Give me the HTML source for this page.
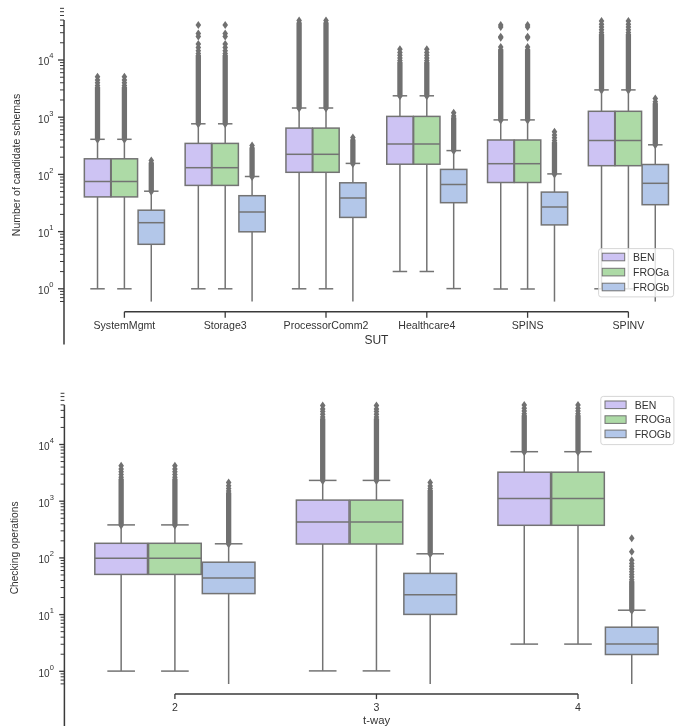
<!DOCTYPE html>
<html><head><meta charset="utf-8"><style>
html,body{margin:0;padding:0;background:#fff;overflow:hidden;}
svg{display:block;font-family:'Liberation Sans', Arial, sans-serif;}
</style></head><body>
<svg width="685" height="726" viewBox="0 0 685 726">
<rect width="685" height="726" fill="#fff"/>
<line x1="64" y1="20" x2="64" y2="344.4" stroke="#3a3a3a" stroke-width="1.5"/>
<line x1="60" y1="301.49" x2="64" y2="301.49" stroke="#3a3a3a" stroke-width="1.0"/>
<line x1="60" y1="297.66" x2="64" y2="297.66" stroke="#3a3a3a" stroke-width="1.0"/>
<line x1="60" y1="294.34" x2="64" y2="294.34" stroke="#3a3a3a" stroke-width="1.0"/>
<line x1="60" y1="291.42" x2="64" y2="291.42" stroke="#3a3a3a" stroke-width="1.0"/>
<line x1="58" y1="288.80" x2="64" y2="288.80" stroke="#3a3a3a" stroke-width="1.3"/>
<text x="53.4" y="294.10" font-size="10" text-anchor="end" fill="#333333">10<tspan dy="-6.9" font-size="7.5">0</tspan></text>
<line x1="60" y1="271.58" x2="64" y2="271.58" stroke="#3a3a3a" stroke-width="1.0"/>
<line x1="60" y1="261.51" x2="64" y2="261.51" stroke="#3a3a3a" stroke-width="1.0"/>
<line x1="60" y1="254.36" x2="64" y2="254.36" stroke="#3a3a3a" stroke-width="1.0"/>
<line x1="60" y1="248.82" x2="64" y2="248.82" stroke="#3a3a3a" stroke-width="1.0"/>
<line x1="60" y1="244.29" x2="64" y2="244.29" stroke="#3a3a3a" stroke-width="1.0"/>
<line x1="60" y1="240.46" x2="64" y2="240.46" stroke="#3a3a3a" stroke-width="1.0"/>
<line x1="60" y1="237.14" x2="64" y2="237.14" stroke="#3a3a3a" stroke-width="1.0"/>
<line x1="60" y1="234.22" x2="64" y2="234.22" stroke="#3a3a3a" stroke-width="1.0"/>
<line x1="58" y1="231.60" x2="64" y2="231.60" stroke="#3a3a3a" stroke-width="1.3"/>
<text x="53.4" y="236.90" font-size="10" text-anchor="end" fill="#333333">10<tspan dy="-6.9" font-size="7.5">1</tspan></text>
<line x1="60" y1="214.38" x2="64" y2="214.38" stroke="#3a3a3a" stroke-width="1.0"/>
<line x1="60" y1="204.31" x2="64" y2="204.31" stroke="#3a3a3a" stroke-width="1.0"/>
<line x1="60" y1="197.16" x2="64" y2="197.16" stroke="#3a3a3a" stroke-width="1.0"/>
<line x1="60" y1="191.62" x2="64" y2="191.62" stroke="#3a3a3a" stroke-width="1.0"/>
<line x1="60" y1="187.09" x2="64" y2="187.09" stroke="#3a3a3a" stroke-width="1.0"/>
<line x1="60" y1="183.26" x2="64" y2="183.26" stroke="#3a3a3a" stroke-width="1.0"/>
<line x1="60" y1="179.94" x2="64" y2="179.94" stroke="#3a3a3a" stroke-width="1.0"/>
<line x1="60" y1="177.02" x2="64" y2="177.02" stroke="#3a3a3a" stroke-width="1.0"/>
<line x1="58" y1="174.40" x2="64" y2="174.40" stroke="#3a3a3a" stroke-width="1.3"/>
<text x="53.4" y="179.70" font-size="10" text-anchor="end" fill="#333333">10<tspan dy="-6.9" font-size="7.5">2</tspan></text>
<line x1="60" y1="157.18" x2="64" y2="157.18" stroke="#3a3a3a" stroke-width="1.0"/>
<line x1="60" y1="147.11" x2="64" y2="147.11" stroke="#3a3a3a" stroke-width="1.0"/>
<line x1="60" y1="139.96" x2="64" y2="139.96" stroke="#3a3a3a" stroke-width="1.0"/>
<line x1="60" y1="134.42" x2="64" y2="134.42" stroke="#3a3a3a" stroke-width="1.0"/>
<line x1="60" y1="129.89" x2="64" y2="129.89" stroke="#3a3a3a" stroke-width="1.0"/>
<line x1="60" y1="126.06" x2="64" y2="126.06" stroke="#3a3a3a" stroke-width="1.0"/>
<line x1="60" y1="122.74" x2="64" y2="122.74" stroke="#3a3a3a" stroke-width="1.0"/>
<line x1="60" y1="119.82" x2="64" y2="119.82" stroke="#3a3a3a" stroke-width="1.0"/>
<line x1="58" y1="117.20" x2="64" y2="117.20" stroke="#3a3a3a" stroke-width="1.3"/>
<text x="53.4" y="122.50" font-size="10" text-anchor="end" fill="#333333">10<tspan dy="-6.9" font-size="7.5">3</tspan></text>
<line x1="60" y1="99.98" x2="64" y2="99.98" stroke="#3a3a3a" stroke-width="1.0"/>
<line x1="60" y1="89.91" x2="64" y2="89.91" stroke="#3a3a3a" stroke-width="1.0"/>
<line x1="60" y1="82.76" x2="64" y2="82.76" stroke="#3a3a3a" stroke-width="1.0"/>
<line x1="60" y1="77.22" x2="64" y2="77.22" stroke="#3a3a3a" stroke-width="1.0"/>
<line x1="60" y1="72.69" x2="64" y2="72.69" stroke="#3a3a3a" stroke-width="1.0"/>
<line x1="60" y1="68.86" x2="64" y2="68.86" stroke="#3a3a3a" stroke-width="1.0"/>
<line x1="60" y1="65.54" x2="64" y2="65.54" stroke="#3a3a3a" stroke-width="1.0"/>
<line x1="60" y1="62.62" x2="64" y2="62.62" stroke="#3a3a3a" stroke-width="1.0"/>
<line x1="58" y1="60.00" x2="64" y2="60.00" stroke="#3a3a3a" stroke-width="1.3"/>
<text x="53.4" y="65.30" font-size="10" text-anchor="end" fill="#333333">10<tspan dy="-6.9" font-size="7.5">4</tspan></text>
<line x1="60" y1="42.78" x2="64" y2="42.78" stroke="#3a3a3a" stroke-width="1.0"/>
<line x1="60" y1="32.71" x2="64" y2="32.71" stroke="#3a3a3a" stroke-width="1.0"/>
<line x1="60" y1="25.56" x2="64" y2="25.56" stroke="#3a3a3a" stroke-width="1.0"/>
<line x1="60" y1="20.02" x2="64" y2="20.02" stroke="#3a3a3a" stroke-width="1.0"/>
<line x1="60" y1="15.49" x2="64" y2="15.49" stroke="#3a3a3a" stroke-width="1.0"/>
<line x1="60" y1="11.66" x2="64" y2="11.66" stroke="#3a3a3a" stroke-width="1.0"/>
<line x1="60" y1="8.34" x2="64" y2="8.34" stroke="#3a3a3a" stroke-width="1.0"/>
<line x1="124.4" y1="311.8" x2="628.4" y2="311.8" stroke="#3a3a3a" stroke-width="1.5"/>
<line x1="124.4" y1="311.8" x2="124.4" y2="317.8" stroke="#3a3a3a" stroke-width="1.3"/>
<text x="124.4" y="328.9" font-size="10.6" text-anchor="middle" fill="#333333">SystemMgmt</text>
<line x1="225.2" y1="311.8" x2="225.2" y2="317.8" stroke="#3a3a3a" stroke-width="1.3"/>
<text x="225.2" y="328.9" font-size="10.6" text-anchor="middle" fill="#333333">Storage3</text>
<line x1="326.0" y1="311.8" x2="326.0" y2="317.8" stroke="#3a3a3a" stroke-width="1.3"/>
<text x="326.0" y="328.9" font-size="10.6" text-anchor="middle" fill="#333333">ProcessorComm2</text>
<line x1="426.79999999999995" y1="311.8" x2="426.79999999999995" y2="317.8" stroke="#3a3a3a" stroke-width="1.3"/>
<text x="426.79999999999995" y="328.9" font-size="10.6" text-anchor="middle" fill="#333333">Healthcare4</text>
<line x1="527.6" y1="311.8" x2="527.6" y2="317.8" stroke="#3a3a3a" stroke-width="1.3"/>
<text x="527.6" y="328.9" font-size="10.6" text-anchor="middle" fill="#333333">SPINS</text>
<line x1="628.4" y1="311.8" x2="628.4" y2="317.8" stroke="#3a3a3a" stroke-width="1.3"/>
<text x="628.4" y="328.9" font-size="10.6" text-anchor="middle" fill="#333333">SPINV</text>
<path d="M97.52,72.80L100.32,76.80L97.52,80.80L94.72,76.80ZM97.52,76.10L100.32,80.10L97.52,84.10L94.72,80.10ZM97.52,78.80L100.32,82.80L97.52,86.80L94.72,82.80ZM97.52,81.50L100.32,85.50L97.52,89.50L94.72,85.50ZM97.52,83.50L100.32,87.50L97.52,91.50L94.72,87.50ZM94.87,87.50H100.17V139.80H94.87ZM97.52,135.80L100.17,139.80L97.52,143.80L94.87,139.80Z" fill="#707070"/>
<line x1="97.52000000000001" y1="139.3" x2="97.52000000000001" y2="158.8" stroke="#737373" stroke-width="1.5"/>
<line x1="97.52000000000001" y1="196.9" x2="97.52000000000001" y2="288.8" stroke="#737373" stroke-width="1.5"/>
<line x1="90.2844" y1="139.3" x2="104.75560000000002" y2="139.3" stroke="#737373" stroke-width="1.5"/>
<line x1="90.2844" y1="288.8" x2="104.75560000000002" y2="288.8" stroke="#737373" stroke-width="1.5"/>
<rect x="84.35" y="158.8" width="26.34" height="38.10" fill="#cdc3f3" stroke="#737373" stroke-width="1.5"/>
<line x1="84.35" y1="181.5" x2="110.69" y2="181.5" stroke="#737373" stroke-width="1.5"/>
<path d="M124.40,72.80L127.20,76.80L124.40,80.80L121.60,76.80ZM124.40,76.10L127.20,80.10L124.40,84.10L121.60,80.10ZM124.40,78.80L127.20,82.80L124.40,86.80L121.60,82.80ZM124.40,81.50L127.20,85.50L124.40,89.50L121.60,85.50ZM124.40,83.50L127.20,87.50L124.40,91.50L121.60,87.50ZM121.75,87.50H127.05V139.80H121.75ZM124.40,135.80L127.05,139.80L124.40,143.80L121.75,139.80Z" fill="#707070"/>
<line x1="124.4" y1="139.3" x2="124.4" y2="158.8" stroke="#737373" stroke-width="1.5"/>
<line x1="124.4" y1="196.9" x2="124.4" y2="288.8" stroke="#737373" stroke-width="1.5"/>
<line x1="117.1644" y1="139.3" x2="131.6356" y2="139.3" stroke="#737373" stroke-width="1.5"/>
<line x1="117.1644" y1="288.8" x2="131.6356" y2="288.8" stroke="#737373" stroke-width="1.5"/>
<rect x="111.23" y="158.8" width="26.34" height="38.10" fill="#addaa6" stroke="#737373" stroke-width="1.5"/>
<line x1="111.23" y1="181.5" x2="137.57" y2="181.5" stroke="#737373" stroke-width="1.5"/>
<path d="M151.28,156.50L154.08,160.50L151.28,164.50L148.48,160.50ZM151.28,159.10L154.08,163.10L151.28,167.10L148.48,163.10ZM148.63,163.10H153.93V191.70H148.63ZM151.28,187.70L153.93,191.70L151.28,195.70L148.63,191.70Z" fill="#707070"/>
<line x1="151.28" y1="191.2" x2="151.28" y2="210.2" stroke="#737373" stroke-width="1.5"/>
<line x1="151.28" y1="244.3" x2="151.28" y2="301.6" stroke="#737373" stroke-width="1.5"/>
<line x1="144.0444" y1="191.2" x2="158.5156" y2="191.2" stroke="#737373" stroke-width="1.5"/>
<rect x="138.11" y="210.2" width="26.34" height="34.10" fill="#b3c7e9" stroke="#737373" stroke-width="1.5"/>
<line x1="138.11" y1="222.7" x2="164.45" y2="222.7" stroke="#737373" stroke-width="1.5"/>
<path d="M198.32,43.50L201.12,47.50L198.32,51.50L195.52,47.50ZM198.32,46.80L201.12,50.80L198.32,54.80L195.52,50.80ZM198.32,49.50L201.12,53.50L198.32,57.50L195.52,53.50ZM198.32,51.50L201.12,55.50L198.32,59.50L195.52,55.50ZM195.67,55.50H200.97V124.30H195.67ZM198.32,120.30L200.97,124.30L198.32,128.30L195.67,124.30Z" fill="#707070"/>
<path d="M198.32,21.00L201.12,25.00L198.32,29.00L195.52,25.00Z" fill="#707070"/>
<path d="M198.32,29.50L201.12,33.50L198.32,37.50L195.52,33.50Z" fill="#707070"/>
<path d="M198.32,32.50L201.12,36.50L198.32,40.50L195.52,36.50Z" fill="#707070"/>
<path d="M198.32,40.00L201.12,44.00L198.32,48.00L195.52,44.00Z" fill="#707070"/>
<line x1="198.32" y1="123.8" x2="198.32" y2="143.4" stroke="#737373" stroke-width="1.5"/>
<line x1="198.32" y1="185.4" x2="198.32" y2="288.8" stroke="#737373" stroke-width="1.5"/>
<line x1="191.0844" y1="123.8" x2="205.5556" y2="123.8" stroke="#737373" stroke-width="1.5"/>
<line x1="191.0844" y1="288.8" x2="205.5556" y2="288.8" stroke="#737373" stroke-width="1.5"/>
<rect x="185.15" y="143.4" width="26.34" height="42.00" fill="#cdc3f3" stroke="#737373" stroke-width="1.5"/>
<line x1="185.15" y1="167.7" x2="211.49" y2="167.7" stroke="#737373" stroke-width="1.5"/>
<path d="M225.20,43.50L228.00,47.50L225.20,51.50L222.40,47.50ZM225.20,46.80L228.00,50.80L225.20,54.80L222.40,50.80ZM225.20,49.50L228.00,53.50L225.20,57.50L222.40,53.50ZM225.20,51.50L228.00,55.50L225.20,59.50L222.40,55.50ZM222.55,55.50H227.85V124.30H222.55ZM225.20,120.30L227.85,124.30L225.20,128.30L222.55,124.30Z" fill="#707070"/>
<path d="M225.20,21.00L228.00,25.00L225.20,29.00L222.40,25.00Z" fill="#707070"/>
<path d="M225.20,29.50L228.00,33.50L225.20,37.50L222.40,33.50Z" fill="#707070"/>
<path d="M225.20,32.50L228.00,36.50L225.20,40.50L222.40,36.50Z" fill="#707070"/>
<path d="M225.20,40.00L228.00,44.00L225.20,48.00L222.40,44.00Z" fill="#707070"/>
<line x1="225.2" y1="123.8" x2="225.2" y2="143.4" stroke="#737373" stroke-width="1.5"/>
<line x1="225.2" y1="185.4" x2="225.2" y2="288.8" stroke="#737373" stroke-width="1.5"/>
<line x1="217.96439999999998" y1="123.8" x2="232.4356" y2="123.8" stroke="#737373" stroke-width="1.5"/>
<line x1="217.96439999999998" y1="288.8" x2="232.4356" y2="288.8" stroke="#737373" stroke-width="1.5"/>
<rect x="212.03" y="143.4" width="26.34" height="42.00" fill="#addaa6" stroke="#737373" stroke-width="1.5"/>
<line x1="212.03" y1="167.7" x2="238.37" y2="167.7" stroke="#737373" stroke-width="1.5"/>
<path d="M252.08,141.50L254.88,145.50L252.08,149.50L249.28,145.50ZM252.08,144.10L254.88,148.10L252.08,152.10L249.28,148.10ZM249.43,148.10H254.73V177.00H249.43ZM252.08,173.00L254.73,177.00L252.08,181.00L249.43,177.00Z" fill="#707070"/>
<line x1="252.07999999999998" y1="176.5" x2="252.07999999999998" y2="195.7" stroke="#737373" stroke-width="1.5"/>
<line x1="252.07999999999998" y1="231.8" x2="252.07999999999998" y2="301.6" stroke="#737373" stroke-width="1.5"/>
<line x1="244.84439999999998" y1="176.5" x2="259.31559999999996" y2="176.5" stroke="#737373" stroke-width="1.5"/>
<rect x="238.91" y="195.7" width="26.34" height="36.10" fill="#b3c7e9" stroke="#737373" stroke-width="1.5"/>
<line x1="238.91" y1="212.0" x2="265.25" y2="212.0" stroke="#737373" stroke-width="1.5"/>
<path d="M299.12,16.50L301.92,20.50L299.12,24.50L296.32,20.50ZM299.12,19.10L301.92,23.10L299.12,27.10L296.32,23.10ZM296.47,23.10H301.77V108.50H296.47ZM299.12,104.50L301.77,108.50L299.12,112.50L296.47,108.50Z" fill="#707070"/>
<line x1="299.12" y1="108.0" x2="299.12" y2="128.1" stroke="#737373" stroke-width="1.5"/>
<line x1="299.12" y1="172.3" x2="299.12" y2="288.8" stroke="#737373" stroke-width="1.5"/>
<line x1="291.8844" y1="108.0" x2="306.3556" y2="108.0" stroke="#737373" stroke-width="1.5"/>
<line x1="291.8844" y1="288.8" x2="306.3556" y2="288.8" stroke="#737373" stroke-width="1.5"/>
<rect x="285.95" y="128.1" width="26.34" height="44.20" fill="#cdc3f3" stroke="#737373" stroke-width="1.5"/>
<line x1="285.95" y1="154.3" x2="312.29" y2="154.3" stroke="#737373" stroke-width="1.5"/>
<path d="M326.00,16.50L328.80,20.50L326.00,24.50L323.20,20.50ZM326.00,19.10L328.80,23.10L326.00,27.10L323.20,23.10ZM323.35,23.10H328.65V108.50H323.35ZM326.00,104.50L328.65,108.50L326.00,112.50L323.35,108.50Z" fill="#707070"/>
<line x1="326.0" y1="108.0" x2="326.0" y2="128.1" stroke="#737373" stroke-width="1.5"/>
<line x1="326.0" y1="172.3" x2="326.0" y2="288.8" stroke="#737373" stroke-width="1.5"/>
<line x1="318.7644" y1="108.0" x2="333.2356" y2="108.0" stroke="#737373" stroke-width="1.5"/>
<line x1="318.7644" y1="288.8" x2="333.2356" y2="288.8" stroke="#737373" stroke-width="1.5"/>
<rect x="312.83" y="128.1" width="26.34" height="44.20" fill="#addaa6" stroke="#737373" stroke-width="1.5"/>
<line x1="312.83" y1="154.3" x2="339.17" y2="154.3" stroke="#737373" stroke-width="1.5"/>
<path d="M352.88,133.50L355.68,137.50L352.88,141.50L350.08,137.50ZM352.88,136.10L355.68,140.10L352.88,144.10L350.08,140.10ZM350.23,140.10H355.53V163.90H350.23ZM352.88,159.90L355.53,163.90L352.88,167.90L350.23,163.90Z" fill="#707070"/>
<line x1="352.88" y1="163.4" x2="352.88" y2="182.8" stroke="#737373" stroke-width="1.5"/>
<line x1="352.88" y1="217.4" x2="352.88" y2="301.6" stroke="#737373" stroke-width="1.5"/>
<line x1="345.6444" y1="163.4" x2="360.1156" y2="163.4" stroke="#737373" stroke-width="1.5"/>
<rect x="339.71" y="182.8" width="26.34" height="34.60" fill="#b3c7e9" stroke="#737373" stroke-width="1.5"/>
<line x1="339.71" y1="198.0" x2="366.05" y2="198.0" stroke="#737373" stroke-width="1.5"/>
<path d="M399.92,45.20L402.72,49.20L399.92,53.20L397.12,49.20ZM399.92,48.50L402.72,52.50L399.92,56.50L397.12,52.50ZM399.92,51.20L402.72,55.20L399.92,59.20L397.12,55.20ZM399.92,53.90L402.72,57.90L399.92,61.90L397.12,57.90ZM399.92,56.60L402.72,60.60L399.92,64.60L397.12,60.60ZM399.92,58.60L402.72,62.60L399.92,66.60L397.12,62.60ZM397.27,62.60H402.57V96.30H397.27ZM399.92,92.30L402.57,96.30L399.92,100.30L397.27,96.30Z" fill="#707070"/>
<line x1="399.91999999999996" y1="95.8" x2="399.91999999999996" y2="116.4" stroke="#737373" stroke-width="1.5"/>
<line x1="399.91999999999996" y1="164.2" x2="399.91999999999996" y2="271.5" stroke="#737373" stroke-width="1.5"/>
<line x1="392.6844" y1="95.8" x2="407.15559999999994" y2="95.8" stroke="#737373" stroke-width="1.5"/>
<line x1="392.6844" y1="271.5" x2="407.15559999999994" y2="271.5" stroke="#737373" stroke-width="1.5"/>
<rect x="386.75" y="116.4" width="26.34" height="47.80" fill="#cdc3f3" stroke="#737373" stroke-width="1.5"/>
<line x1="386.75" y1="144.0" x2="413.09" y2="144.0" stroke="#737373" stroke-width="1.5"/>
<path d="M426.80,45.20L429.60,49.20L426.80,53.20L424.00,49.20ZM426.80,48.50L429.60,52.50L426.80,56.50L424.00,52.50ZM426.80,51.20L429.60,55.20L426.80,59.20L424.00,55.20ZM426.80,53.90L429.60,57.90L426.80,61.90L424.00,57.90ZM426.80,56.60L429.60,60.60L426.80,64.60L424.00,60.60ZM426.80,58.60L429.60,62.60L426.80,66.60L424.00,62.60ZM424.15,62.60H429.45V96.30H424.15ZM426.80,92.30L429.45,96.30L426.80,100.30L424.15,96.30Z" fill="#707070"/>
<line x1="426.79999999999995" y1="95.8" x2="426.79999999999995" y2="116.4" stroke="#737373" stroke-width="1.5"/>
<line x1="426.79999999999995" y1="164.2" x2="426.79999999999995" y2="271.5" stroke="#737373" stroke-width="1.5"/>
<line x1="419.5644" y1="95.8" x2="434.03559999999993" y2="95.8" stroke="#737373" stroke-width="1.5"/>
<line x1="419.5644" y1="271.5" x2="434.03559999999993" y2="271.5" stroke="#737373" stroke-width="1.5"/>
<rect x="413.63" y="116.4" width="26.34" height="47.80" fill="#addaa6" stroke="#737373" stroke-width="1.5"/>
<line x1="413.63" y1="144.0" x2="439.97" y2="144.0" stroke="#737373" stroke-width="1.5"/>
<path d="M453.68,108.80L456.48,112.80L453.68,116.80L450.88,112.80ZM453.68,112.10L456.48,116.10L453.68,120.10L450.88,116.10ZM453.68,114.10L456.48,118.10L453.68,122.10L450.88,118.10ZM451.03,118.10H456.33V151.10H451.03ZM453.68,147.10L456.33,151.10L453.68,155.10L451.03,151.10Z" fill="#707070"/>
<line x1="453.67999999999995" y1="150.6" x2="453.67999999999995" y2="169.4" stroke="#737373" stroke-width="1.5"/>
<line x1="453.67999999999995" y1="202.7" x2="453.67999999999995" y2="288.6" stroke="#737373" stroke-width="1.5"/>
<line x1="446.4444" y1="150.6" x2="460.9155999999999" y2="150.6" stroke="#737373" stroke-width="1.5"/>
<line x1="446.4444" y1="288.6" x2="460.9155999999999" y2="288.6" stroke="#737373" stroke-width="1.5"/>
<rect x="440.51" y="169.4" width="26.34" height="33.30" fill="#b3c7e9" stroke="#737373" stroke-width="1.5"/>
<line x1="440.51" y1="184.5" x2="466.85" y2="184.5" stroke="#737373" stroke-width="1.5"/>
<path d="M500.72,43.10L503.52,47.10L500.72,51.10L497.92,47.10ZM500.72,45.70L503.52,49.70L500.72,53.70L497.92,49.70ZM498.07,49.70H503.37V120.40H498.07ZM500.72,116.40L503.37,120.40L500.72,124.40L498.07,120.40Z" fill="#707070"/>
<path d="M500.72,21.00L503.52,25.00L500.72,29.00L497.92,25.00Z" fill="#707070"/>
<path d="M500.72,22.90L503.52,26.90L500.72,30.90L497.92,26.90Z" fill="#707070"/>
<path d="M500.72,32.70L503.52,36.70L500.72,40.70L497.92,36.70Z" fill="#707070"/>
<path d="M500.72,33.80L503.52,37.80L500.72,41.80L497.92,37.80Z" fill="#707070"/>
<line x1="500.72" y1="119.9" x2="500.72" y2="140.0" stroke="#737373" stroke-width="1.5"/>
<line x1="500.72" y1="182.5" x2="500.72" y2="289.0" stroke="#737373" stroke-width="1.5"/>
<line x1="493.48440000000005" y1="119.9" x2="507.9556" y2="119.9" stroke="#737373" stroke-width="1.5"/>
<line x1="493.48440000000005" y1="289.0" x2="507.9556" y2="289.0" stroke="#737373" stroke-width="1.5"/>
<rect x="487.55" y="140.0" width="26.34" height="42.50" fill="#cdc3f3" stroke="#737373" stroke-width="1.5"/>
<line x1="487.55" y1="163.7" x2="513.89" y2="163.7" stroke="#737373" stroke-width="1.5"/>
<path d="M527.60,43.10L530.40,47.10L527.60,51.10L524.80,47.10ZM527.60,45.70L530.40,49.70L527.60,53.70L524.80,49.70ZM524.95,49.70H530.25V120.40H524.95ZM527.60,116.40L530.25,120.40L527.60,124.40L524.95,120.40Z" fill="#707070"/>
<path d="M527.60,21.00L530.40,25.00L527.60,29.00L524.80,25.00Z" fill="#707070"/>
<path d="M527.60,22.90L530.40,26.90L527.60,30.90L524.80,26.90Z" fill="#707070"/>
<path d="M527.60,32.70L530.40,36.70L527.60,40.70L524.80,36.70Z" fill="#707070"/>
<path d="M527.60,33.80L530.40,37.80L527.60,41.80L524.80,37.80Z" fill="#707070"/>
<line x1="527.6" y1="119.9" x2="527.6" y2="140.0" stroke="#737373" stroke-width="1.5"/>
<line x1="527.6" y1="182.5" x2="527.6" y2="289.0" stroke="#737373" stroke-width="1.5"/>
<line x1="520.3644" y1="119.9" x2="534.8356" y2="119.9" stroke="#737373" stroke-width="1.5"/>
<line x1="520.3644" y1="289.0" x2="534.8356" y2="289.0" stroke="#737373" stroke-width="1.5"/>
<rect x="514.43" y="140.0" width="26.34" height="42.50" fill="#addaa6" stroke="#737373" stroke-width="1.5"/>
<line x1="514.43" y1="163.7" x2="540.77" y2="163.7" stroke="#737373" stroke-width="1.5"/>
<path d="M554.48,127.70L557.28,131.70L554.48,135.70L551.68,131.70ZM554.48,131.00L557.28,135.00L554.48,139.00L551.68,135.00ZM554.48,133.70L557.28,137.70L554.48,141.70L551.68,137.70ZM554.48,136.40L557.28,140.40L554.48,144.40L551.68,140.40ZM554.48,138.40L557.28,142.40L554.48,146.40L551.68,142.40ZM551.83,142.40H557.13V174.40H551.83ZM554.48,170.40L557.13,174.40L554.48,178.40L551.83,174.40Z" fill="#707070"/>
<line x1="554.48" y1="173.9" x2="554.48" y2="192.1" stroke="#737373" stroke-width="1.5"/>
<line x1="554.48" y1="224.9" x2="554.48" y2="301.6" stroke="#737373" stroke-width="1.5"/>
<line x1="547.2444" y1="173.9" x2="561.7156" y2="173.9" stroke="#737373" stroke-width="1.5"/>
<rect x="541.31" y="192.1" width="26.34" height="32.80" fill="#b3c7e9" stroke="#737373" stroke-width="1.5"/>
<line x1="541.31" y1="207.0" x2="567.65" y2="207.0" stroke="#737373" stroke-width="1.5"/>
<path d="M601.52,17.00L604.32,21.00L601.52,25.00L598.72,21.00ZM601.52,20.30L604.32,24.30L601.52,28.30L598.72,24.30ZM601.52,23.00L604.32,27.00L601.52,31.00L598.72,27.00ZM601.52,25.70L604.32,29.70L601.52,33.70L598.72,29.70ZM601.52,28.40L604.32,32.40L601.52,36.40L598.72,32.40ZM601.52,30.40L604.32,34.40L601.52,38.40L598.72,34.40ZM598.87,34.40H604.17V90.40H598.87ZM601.52,86.40L604.17,90.40L601.52,94.40L598.87,90.40Z" fill="#707070"/>
<line x1="601.52" y1="89.9" x2="601.52" y2="111.3" stroke="#737373" stroke-width="1.5"/>
<line x1="601.52" y1="165.7" x2="601.52" y2="288.8" stroke="#737373" stroke-width="1.5"/>
<line x1="594.2844" y1="89.9" x2="608.7556" y2="89.9" stroke="#737373" stroke-width="1.5"/>
<line x1="594.2844" y1="288.8" x2="608.7556" y2="288.8" stroke="#737373" stroke-width="1.5"/>
<rect x="588.35" y="111.3" width="26.34" height="54.40" fill="#cdc3f3" stroke="#737373" stroke-width="1.5"/>
<line x1="588.35" y1="140.5" x2="614.69" y2="140.5" stroke="#737373" stroke-width="1.5"/>
<path d="M628.40,17.00L631.20,21.00L628.40,25.00L625.60,21.00ZM628.40,20.30L631.20,24.30L628.40,28.30L625.60,24.30ZM628.40,23.00L631.20,27.00L628.40,31.00L625.60,27.00ZM628.40,25.70L631.20,29.70L628.40,33.70L625.60,29.70ZM628.40,28.40L631.20,32.40L628.40,36.40L625.60,32.40ZM628.40,30.40L631.20,34.40L628.40,38.40L625.60,34.40ZM625.75,34.40H631.05V90.40H625.75ZM628.40,86.40L631.05,90.40L628.40,94.40L625.75,90.40Z" fill="#707070"/>
<line x1="628.4" y1="89.9" x2="628.4" y2="111.3" stroke="#737373" stroke-width="1.5"/>
<line x1="628.4" y1="165.7" x2="628.4" y2="288.8" stroke="#737373" stroke-width="1.5"/>
<line x1="621.1644" y1="89.9" x2="635.6356" y2="89.9" stroke="#737373" stroke-width="1.5"/>
<line x1="621.1644" y1="288.8" x2="635.6356" y2="288.8" stroke="#737373" stroke-width="1.5"/>
<rect x="615.23" y="111.3" width="26.34" height="54.40" fill="#addaa6" stroke="#737373" stroke-width="1.5"/>
<line x1="615.23" y1="140.5" x2="641.57" y2="140.5" stroke="#737373" stroke-width="1.5"/>
<path d="M655.28,94.40L658.08,98.40L655.28,102.40L652.48,98.40ZM655.28,97.70L658.08,101.70L655.28,105.70L652.48,101.70ZM655.28,99.70L658.08,103.70L655.28,107.70L652.48,103.70ZM652.63,103.70H657.93V145.30H652.63ZM655.28,141.30L657.93,145.30L655.28,149.30L652.63,145.30Z" fill="#707070"/>
<line x1="655.28" y1="144.8" x2="655.28" y2="164.5" stroke="#737373" stroke-width="1.5"/>
<line x1="655.28" y1="204.7" x2="655.28" y2="301.6" stroke="#737373" stroke-width="1.5"/>
<line x1="648.0444" y1="144.8" x2="662.5156" y2="144.8" stroke="#737373" stroke-width="1.5"/>
<rect x="642.11" y="164.5" width="26.34" height="40.20" fill="#b3c7e9" stroke="#737373" stroke-width="1.5"/>
<line x1="642.11" y1="183.3" x2="668.45" y2="183.3" stroke="#737373" stroke-width="1.5"/>
<rect x="598.6" y="248.6" width="75.0" height="48.29999999999998" rx="2.5" fill="#fff" fill-opacity="0.8" stroke="#cccccc" stroke-opacity="0.8" stroke-width="1"/>
<rect x="602.2" y="253.2" width="22.5" height="7.6" fill="#cdc3f3" stroke="#737373" stroke-width="1"/>
<text x="633.0" y="260.8" font-size="10.5" fill="#333333">BEN</text>
<rect x="602.2" y="268.3" width="22.5" height="7.6" fill="#addaa6" stroke="#737373" stroke-width="1"/>
<text x="633.0" y="275.90000000000003" font-size="10.5" fill="#333333">FROGa</text>
<rect x="602.2" y="283.2" width="22.5" height="7.6" fill="#b3c7e9" stroke="#737373" stroke-width="1"/>
<text x="633.0" y="290.8" font-size="10.5" fill="#333333">FROGb</text>
<text transform="translate(19.5,165) rotate(-90)" font-size="10.5" text-anchor="middle" fill="#333333">Number of candidate schemas</text>
<text x="376.4" y="343.8" font-size="12" text-anchor="middle" fill="#333333">SUT</text>
<line x1="64.4" y1="404.9" x2="64.4" y2="726" stroke="#3a3a3a" stroke-width="1.5"/>
<line x1="60.60000000000001" y1="683.88" x2="64.4" y2="683.88" stroke="#3a3a3a" stroke-width="1.0"/>
<line x1="60.60000000000001" y1="680.08" x2="64.4" y2="680.08" stroke="#3a3a3a" stroke-width="1.0"/>
<line x1="60.60000000000001" y1="676.79" x2="64.4" y2="676.79" stroke="#3a3a3a" stroke-width="1.0"/>
<line x1="60.60000000000001" y1="673.89" x2="64.4" y2="673.89" stroke="#3a3a3a" stroke-width="1.0"/>
<line x1="59.2" y1="671.30" x2="64.4" y2="671.30" stroke="#3a3a3a" stroke-width="1.3"/>
<text x="53.8" y="676.60" font-size="10" text-anchor="end" fill="#333333">10<tspan dy="-6.9" font-size="7.5">0</tspan></text>
<line x1="60.60000000000001" y1="654.23" x2="64.4" y2="654.23" stroke="#3a3a3a" stroke-width="1.0"/>
<line x1="60.60000000000001" y1="644.25" x2="64.4" y2="644.25" stroke="#3a3a3a" stroke-width="1.0"/>
<line x1="60.60000000000001" y1="637.16" x2="64.4" y2="637.16" stroke="#3a3a3a" stroke-width="1.0"/>
<line x1="60.60000000000001" y1="631.67" x2="64.4" y2="631.67" stroke="#3a3a3a" stroke-width="1.0"/>
<line x1="60.60000000000001" y1="627.18" x2="64.4" y2="627.18" stroke="#3a3a3a" stroke-width="1.0"/>
<line x1="60.60000000000001" y1="623.38" x2="64.4" y2="623.38" stroke="#3a3a3a" stroke-width="1.0"/>
<line x1="60.60000000000001" y1="620.09" x2="64.4" y2="620.09" stroke="#3a3a3a" stroke-width="1.0"/>
<line x1="60.60000000000001" y1="617.19" x2="64.4" y2="617.19" stroke="#3a3a3a" stroke-width="1.0"/>
<line x1="59.2" y1="614.60" x2="64.4" y2="614.60" stroke="#3a3a3a" stroke-width="1.3"/>
<text x="53.8" y="619.90" font-size="10" text-anchor="end" fill="#333333">10<tspan dy="-6.9" font-size="7.5">1</tspan></text>
<line x1="60.60000000000001" y1="597.53" x2="64.4" y2="597.53" stroke="#3a3a3a" stroke-width="1.0"/>
<line x1="60.60000000000001" y1="587.55" x2="64.4" y2="587.55" stroke="#3a3a3a" stroke-width="1.0"/>
<line x1="60.60000000000001" y1="580.46" x2="64.4" y2="580.46" stroke="#3a3a3a" stroke-width="1.0"/>
<line x1="60.60000000000001" y1="574.97" x2="64.4" y2="574.97" stroke="#3a3a3a" stroke-width="1.0"/>
<line x1="60.60000000000001" y1="570.48" x2="64.4" y2="570.48" stroke="#3a3a3a" stroke-width="1.0"/>
<line x1="60.60000000000001" y1="566.68" x2="64.4" y2="566.68" stroke="#3a3a3a" stroke-width="1.0"/>
<line x1="60.60000000000001" y1="563.39" x2="64.4" y2="563.39" stroke="#3a3a3a" stroke-width="1.0"/>
<line x1="60.60000000000001" y1="560.49" x2="64.4" y2="560.49" stroke="#3a3a3a" stroke-width="1.0"/>
<line x1="59.2" y1="557.90" x2="64.4" y2="557.90" stroke="#3a3a3a" stroke-width="1.3"/>
<text x="53.8" y="563.20" font-size="10" text-anchor="end" fill="#333333">10<tspan dy="-6.9" font-size="7.5">2</tspan></text>
<line x1="60.60000000000001" y1="540.83" x2="64.4" y2="540.83" stroke="#3a3a3a" stroke-width="1.0"/>
<line x1="60.60000000000001" y1="530.85" x2="64.4" y2="530.85" stroke="#3a3a3a" stroke-width="1.0"/>
<line x1="60.60000000000001" y1="523.76" x2="64.4" y2="523.76" stroke="#3a3a3a" stroke-width="1.0"/>
<line x1="60.60000000000001" y1="518.27" x2="64.4" y2="518.27" stroke="#3a3a3a" stroke-width="1.0"/>
<line x1="60.60000000000001" y1="513.78" x2="64.4" y2="513.78" stroke="#3a3a3a" stroke-width="1.0"/>
<line x1="60.60000000000001" y1="509.98" x2="64.4" y2="509.98" stroke="#3a3a3a" stroke-width="1.0"/>
<line x1="60.60000000000001" y1="506.69" x2="64.4" y2="506.69" stroke="#3a3a3a" stroke-width="1.0"/>
<line x1="60.60000000000001" y1="503.79" x2="64.4" y2="503.79" stroke="#3a3a3a" stroke-width="1.0"/>
<line x1="59.2" y1="501.20" x2="64.4" y2="501.20" stroke="#3a3a3a" stroke-width="1.3"/>
<text x="53.8" y="506.50" font-size="10" text-anchor="end" fill="#333333">10<tspan dy="-6.9" font-size="7.5">3</tspan></text>
<line x1="60.60000000000001" y1="484.13" x2="64.4" y2="484.13" stroke="#3a3a3a" stroke-width="1.0"/>
<line x1="60.60000000000001" y1="474.15" x2="64.4" y2="474.15" stroke="#3a3a3a" stroke-width="1.0"/>
<line x1="60.60000000000001" y1="467.06" x2="64.4" y2="467.06" stroke="#3a3a3a" stroke-width="1.0"/>
<line x1="60.60000000000001" y1="461.57" x2="64.4" y2="461.57" stroke="#3a3a3a" stroke-width="1.0"/>
<line x1="60.60000000000001" y1="457.08" x2="64.4" y2="457.08" stroke="#3a3a3a" stroke-width="1.0"/>
<line x1="60.60000000000001" y1="453.28" x2="64.4" y2="453.28" stroke="#3a3a3a" stroke-width="1.0"/>
<line x1="60.60000000000001" y1="449.99" x2="64.4" y2="449.99" stroke="#3a3a3a" stroke-width="1.0"/>
<line x1="60.60000000000001" y1="447.09" x2="64.4" y2="447.09" stroke="#3a3a3a" stroke-width="1.0"/>
<line x1="59.2" y1="444.50" x2="64.4" y2="444.50" stroke="#3a3a3a" stroke-width="1.3"/>
<text x="53.8" y="449.80" font-size="10" text-anchor="end" fill="#333333">10<tspan dy="-6.9" font-size="7.5">4</tspan></text>
<line x1="60.60000000000001" y1="427.43" x2="64.4" y2="427.43" stroke="#3a3a3a" stroke-width="1.0"/>
<line x1="60.60000000000001" y1="417.45" x2="64.4" y2="417.45" stroke="#3a3a3a" stroke-width="1.0"/>
<line x1="60.60000000000001" y1="410.36" x2="64.4" y2="410.36" stroke="#3a3a3a" stroke-width="1.0"/>
<line x1="60.60000000000001" y1="404.87" x2="64.4" y2="404.87" stroke="#3a3a3a" stroke-width="1.0"/>
<line x1="60.60000000000001" y1="400.38" x2="64.4" y2="400.38" stroke="#3a3a3a" stroke-width="1.0"/>
<line x1="60.60000000000001" y1="396.58" x2="64.4" y2="396.58" stroke="#3a3a3a" stroke-width="1.0"/>
<line x1="60.60000000000001" y1="393.29" x2="64.4" y2="393.29" stroke="#3a3a3a" stroke-width="1.0"/>
<line x1="174.9" y1="693.9" x2="578.0" y2="693.9" stroke="#3a3a3a" stroke-width="1.5"/>
<line x1="174.9" y1="693.9" x2="174.9" y2="699.1" stroke="#3a3a3a" stroke-width="1.3"/>
<text x="174.9" y="710.5" font-size="10.6" text-anchor="middle" fill="#333333">2</text>
<line x1="376.45000000000005" y1="693.9" x2="376.45000000000005" y2="699.1" stroke="#3a3a3a" stroke-width="1.3"/>
<text x="376.45000000000005" y="710.5" font-size="10.6" text-anchor="middle" fill="#333333">3</text>
<line x1="578.0" y1="693.9" x2="578.0" y2="699.1" stroke="#3a3a3a" stroke-width="1.3"/>
<text x="578.0" y="710.5" font-size="10.6" text-anchor="middle" fill="#333333">4</text>
<path d="M121.15,461.80L123.95,465.80L121.15,469.80L118.35,465.80ZM121.15,465.10L123.95,469.10L121.15,473.10L118.35,469.10ZM121.15,467.80L123.95,471.80L121.15,475.80L118.35,471.80ZM121.15,470.50L123.95,474.50L121.15,478.50L118.35,474.50ZM121.15,473.20L123.95,477.20L121.15,481.20L118.35,477.20ZM121.15,475.20L123.95,479.20L121.15,483.20L118.35,479.20ZM118.50,479.20H123.80V525.40H118.50ZM121.15,521.40L123.80,525.40L121.15,529.40L118.50,525.40Z" fill="#707070"/>
<line x1="121.15333333333334" y1="524.9" x2="121.15333333333334" y2="543.3" stroke="#737373" stroke-width="1.5"/>
<line x1="121.15333333333334" y1="574.4" x2="121.15333333333334" y2="671.1" stroke="#737373" stroke-width="1.5"/>
<line x1="107.3354" y1="524.9" x2="134.97126666666668" y2="524.9" stroke="#737373" stroke-width="1.5"/>
<line x1="107.3354" y1="671.1" x2="134.97126666666668" y2="671.1" stroke="#737373" stroke-width="1.5"/>
<rect x="94.82" y="543.3" width="52.67" height="31.10" fill="#cdc3f3" stroke="#737373" stroke-width="1.5"/>
<line x1="94.82" y1="558.2" x2="147.49" y2="558.2" stroke="#737373" stroke-width="1.5"/>
<path d="M174.90,461.80L177.70,465.80L174.90,469.80L172.10,465.80ZM174.90,465.10L177.70,469.10L174.90,473.10L172.10,469.10ZM174.90,467.80L177.70,471.80L174.90,475.80L172.10,471.80ZM174.90,470.50L177.70,474.50L174.90,478.50L172.10,474.50ZM174.90,473.20L177.70,477.20L174.90,481.20L172.10,477.20ZM174.90,475.20L177.70,479.20L174.90,483.20L172.10,479.20ZM172.25,479.20H177.55V525.40H172.25ZM174.90,521.40L177.55,525.40L174.90,529.40L172.25,525.40Z" fill="#707070"/>
<line x1="174.9" y1="524.9" x2="174.9" y2="543.3" stroke="#737373" stroke-width="1.5"/>
<line x1="174.9" y1="574.4" x2="174.9" y2="671.1" stroke="#737373" stroke-width="1.5"/>
<line x1="161.08206666666666" y1="524.9" x2="188.71793333333335" y2="524.9" stroke="#737373" stroke-width="1.5"/>
<line x1="161.08206666666666" y1="671.1" x2="188.71793333333335" y2="671.1" stroke="#737373" stroke-width="1.5"/>
<rect x="148.56" y="543.3" width="52.67" height="31.10" fill="#addaa6" stroke="#737373" stroke-width="1.5"/>
<line x1="148.56" y1="558.2" x2="201.24" y2="558.2" stroke="#737373" stroke-width="1.5"/>
<path d="M228.65,478.40L231.45,482.40L228.65,486.40L225.85,482.40ZM228.65,481.70L231.45,485.70L228.65,489.70L225.85,485.70ZM228.65,484.40L231.45,488.40L228.65,492.40L225.85,488.40ZM228.65,487.10L231.45,491.10L228.65,495.10L225.85,491.10ZM228.65,489.10L231.45,493.10L228.65,497.10L225.85,493.10ZM226.00,493.10H231.30V544.30H226.00ZM228.65,540.30L231.30,544.30L228.65,548.30L226.00,544.30Z" fill="#707070"/>
<line x1="228.64666666666668" y1="543.8" x2="228.64666666666668" y2="562.2" stroke="#737373" stroke-width="1.5"/>
<line x1="228.64666666666668" y1="593.6" x2="228.64666666666668" y2="684.0" stroke="#737373" stroke-width="1.5"/>
<line x1="214.82873333333333" y1="543.8" x2="242.46460000000002" y2="543.8" stroke="#737373" stroke-width="1.5"/>
<rect x="202.31" y="562.2" width="52.67" height="31.40" fill="#b3c7e9" stroke="#737373" stroke-width="1.5"/>
<line x1="202.31" y1="578.0" x2="254.98" y2="578.0" stroke="#737373" stroke-width="1.5"/>
<path d="M322.70,401.60L325.50,405.60L322.70,409.60L319.90,405.60ZM322.70,404.90L325.50,408.90L322.70,412.90L319.90,408.90ZM322.70,407.60L325.50,411.60L322.70,415.60L319.90,411.60ZM322.70,410.30L325.50,414.30L322.70,418.30L319.90,414.30ZM322.70,413.00L325.50,417.00L322.70,421.00L319.90,417.00ZM322.70,415.00L325.50,419.00L322.70,423.00L319.90,419.00ZM320.05,419.00H325.35V480.90H320.05ZM322.70,476.90L325.35,480.90L322.70,484.90L320.05,480.90Z" fill="#707070"/>
<line x1="322.7033333333334" y1="480.4" x2="322.7033333333334" y2="500.1" stroke="#737373" stroke-width="1.5"/>
<line x1="322.7033333333334" y1="544.0" x2="322.7033333333334" y2="670.9" stroke="#737373" stroke-width="1.5"/>
<line x1="308.88540000000006" y1="480.4" x2="336.5212666666667" y2="480.4" stroke="#737373" stroke-width="1.5"/>
<line x1="308.88540000000006" y1="670.9" x2="336.5212666666667" y2="670.9" stroke="#737373" stroke-width="1.5"/>
<rect x="296.37" y="500.1" width="52.67" height="43.90" fill="#cdc3f3" stroke="#737373" stroke-width="1.5"/>
<line x1="296.37" y1="521.9" x2="349.04" y2="521.9" stroke="#737373" stroke-width="1.5"/>
<path d="M376.45,401.60L379.25,405.60L376.45,409.60L373.65,405.60ZM376.45,404.90L379.25,408.90L376.45,412.90L373.65,408.90ZM376.45,407.60L379.25,411.60L376.45,415.60L373.65,411.60ZM376.45,410.30L379.25,414.30L376.45,418.30L373.65,414.30ZM376.45,413.00L379.25,417.00L376.45,421.00L373.65,417.00ZM376.45,415.00L379.25,419.00L376.45,423.00L373.65,419.00ZM373.80,419.00H379.10V480.90H373.80ZM376.45,476.90L379.10,480.90L376.45,484.90L373.80,480.90Z" fill="#707070"/>
<line x1="376.45000000000005" y1="480.4" x2="376.45000000000005" y2="500.1" stroke="#737373" stroke-width="1.5"/>
<line x1="376.45000000000005" y1="544.0" x2="376.45000000000005" y2="670.9" stroke="#737373" stroke-width="1.5"/>
<line x1="362.63206666666673" y1="480.4" x2="390.26793333333336" y2="480.4" stroke="#737373" stroke-width="1.5"/>
<line x1="362.63206666666673" y1="670.9" x2="390.26793333333336" y2="670.9" stroke="#737373" stroke-width="1.5"/>
<rect x="350.11" y="500.1" width="52.67" height="43.90" fill="#addaa6" stroke="#737373" stroke-width="1.5"/>
<line x1="350.11" y1="521.9" x2="402.79" y2="521.9" stroke="#737373" stroke-width="1.5"/>
<path d="M430.20,478.60L433.00,482.60L430.20,486.60L427.40,482.60ZM430.20,481.90L433.00,485.90L430.20,489.90L427.40,485.90ZM430.20,484.60L433.00,488.60L430.20,492.60L427.40,488.60ZM430.20,486.60L433.00,490.60L430.20,494.60L427.40,490.60ZM427.55,490.60H432.85V554.30H427.55ZM430.20,550.30L432.85,554.30L430.20,558.30L427.55,554.30Z" fill="#707070"/>
<line x1="430.1966666666667" y1="553.8" x2="430.1966666666667" y2="573.4" stroke="#737373" stroke-width="1.5"/>
<line x1="430.1966666666667" y1="614.4" x2="430.1966666666667" y2="684.0" stroke="#737373" stroke-width="1.5"/>
<line x1="416.3787333333334" y1="553.8" x2="444.01460000000003" y2="553.8" stroke="#737373" stroke-width="1.5"/>
<rect x="403.86" y="573.4" width="52.67" height="41.00" fill="#b3c7e9" stroke="#737373" stroke-width="1.5"/>
<line x1="403.86" y1="594.7" x2="456.53" y2="594.7" stroke="#737373" stroke-width="1.5"/>
<path d="M524.25,401.00L527.05,405.00L524.25,409.00L521.45,405.00ZM524.25,404.30L527.05,408.30L524.25,412.30L521.45,408.30ZM524.25,407.00L527.05,411.00L524.25,415.00L521.45,411.00ZM524.25,409.70L527.05,413.70L524.25,417.70L521.45,413.70ZM524.25,411.70L527.05,415.70L524.25,419.70L521.45,415.70ZM521.60,415.70H526.90V452.20H521.60ZM524.25,448.20L526.90,452.20L524.25,456.20L521.60,452.20Z" fill="#707070"/>
<line x1="524.2533333333333" y1="451.7" x2="524.2533333333333" y2="472.2" stroke="#737373" stroke-width="1.5"/>
<line x1="524.2533333333333" y1="525.3" x2="524.2533333333333" y2="644.1" stroke="#737373" stroke-width="1.5"/>
<line x1="510.4354" y1="451.7" x2="538.0712666666667" y2="451.7" stroke="#737373" stroke-width="1.5"/>
<line x1="510.4354" y1="644.1" x2="538.0712666666667" y2="644.1" stroke="#737373" stroke-width="1.5"/>
<rect x="497.92" y="472.2" width="52.67" height="53.10" fill="#cdc3f3" stroke="#737373" stroke-width="1.5"/>
<line x1="497.92" y1="498.5" x2="550.59" y2="498.5" stroke="#737373" stroke-width="1.5"/>
<path d="M578.00,401.00L580.80,405.00L578.00,409.00L575.20,405.00ZM578.00,404.30L580.80,408.30L578.00,412.30L575.20,408.30ZM578.00,407.00L580.80,411.00L578.00,415.00L575.20,411.00ZM578.00,409.70L580.80,413.70L578.00,417.70L575.20,413.70ZM578.00,411.70L580.80,415.70L578.00,419.70L575.20,415.70ZM575.35,415.70H580.65V452.20H575.35ZM578.00,448.20L580.65,452.20L578.00,456.20L575.35,452.20Z" fill="#707070"/>
<line x1="578.0" y1="451.7" x2="578.0" y2="472.2" stroke="#737373" stroke-width="1.5"/>
<line x1="578.0" y1="525.3" x2="578.0" y2="644.1" stroke="#737373" stroke-width="1.5"/>
<line x1="564.1820666666666" y1="451.7" x2="591.8179333333334" y2="451.7" stroke="#737373" stroke-width="1.5"/>
<line x1="564.1820666666666" y1="644.1" x2="591.8179333333334" y2="644.1" stroke="#737373" stroke-width="1.5"/>
<rect x="551.66" y="472.2" width="52.67" height="53.10" fill="#addaa6" stroke="#737373" stroke-width="1.5"/>
<line x1="551.66" y1="498.5" x2="604.34" y2="498.5" stroke="#737373" stroke-width="1.5"/>
<path d="M631.75,556.30L634.55,560.30L631.75,564.30L628.95,560.30ZM631.75,559.60L634.55,563.60L631.75,567.60L628.95,563.60ZM631.75,562.30L634.55,566.30L631.75,570.30L628.95,566.30ZM631.75,565.00L634.55,569.00L631.75,573.00L628.95,569.00ZM631.75,567.70L634.55,571.70L631.75,575.70L628.95,571.70ZM631.75,570.40L634.55,574.40L631.75,578.40L628.95,574.40ZM631.75,573.10L634.55,577.10L631.75,581.10L628.95,577.10ZM631.75,575.80L634.55,579.80L631.75,583.80L628.95,579.80ZM631.75,577.80L634.55,581.80L631.75,585.80L628.95,581.80ZM629.10,581.80H634.40V610.70H629.10ZM631.75,606.70L634.40,610.70L631.75,614.70L629.10,610.70Z" fill="#707070"/>
<path d="M631.75,534.20L634.55,538.20L631.75,542.20L628.95,538.20Z" fill="#707070"/>
<path d="M631.75,547.80L634.55,551.80L631.75,555.80L628.95,551.80Z" fill="#707070"/>
<line x1="631.7466666666667" y1="610.2" x2="631.7466666666667" y2="627.2" stroke="#737373" stroke-width="1.5"/>
<line x1="631.7466666666667" y1="654.5" x2="631.7466666666667" y2="684.0" stroke="#737373" stroke-width="1.5"/>
<line x1="617.9287333333333" y1="610.2" x2="645.5646" y2="610.2" stroke="#737373" stroke-width="1.5"/>
<rect x="605.41" y="627.2" width="52.67" height="27.30" fill="#b3c7e9" stroke="#737373" stroke-width="1.5"/>
<line x1="605.41" y1="644.0" x2="658.08" y2="644.0" stroke="#737373" stroke-width="1.5"/>
<rect x="600.8" y="396.4" width="73.10000000000002" height="48.200000000000045" rx="2.5" fill="#fff" fill-opacity="0.8" stroke="#cccccc" stroke-opacity="0.8" stroke-width="1"/>
<rect x="605.0" y="401.0" width="21.100000000000023" height="7.6" fill="#cdc3f3" stroke="#737373" stroke-width="1"/>
<text x="634.7" y="408.6" font-size="10.5" fill="#333333">BEN</text>
<rect x="605.0" y="415.8" width="21.100000000000023" height="7.6" fill="#addaa6" stroke="#737373" stroke-width="1"/>
<text x="634.7" y="423.40000000000003" font-size="10.5" fill="#333333">FROGa</text>
<rect x="605.0" y="430.1" width="21.100000000000023" height="7.6" fill="#b3c7e9" stroke="#737373" stroke-width="1"/>
<text x="634.7" y="437.70000000000005" font-size="10.5" fill="#333333">FROGb</text>
<text transform="translate(17.9,547.9) rotate(-90)" font-size="10.2" text-anchor="middle" fill="#333333">Checking operations</text>
<text x="376.6" y="724.2" font-size="11.3" text-anchor="middle" fill="#333333">t-way</text>
</svg>
</body></html>
